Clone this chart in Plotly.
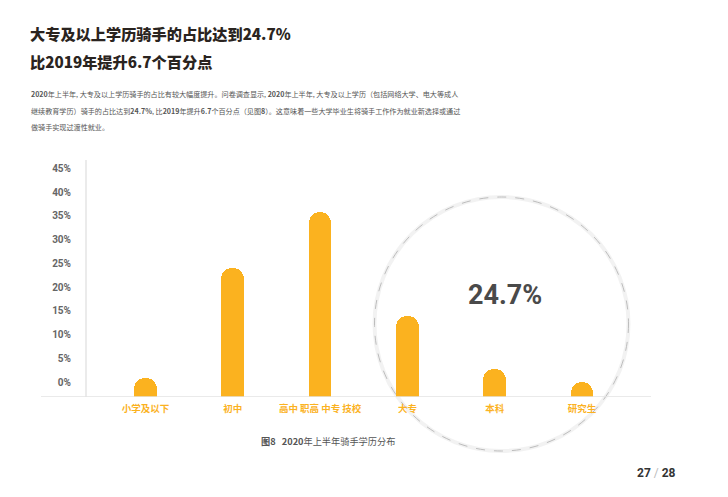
import plotly.graph_objects as go

categories = ["小学及以下", "初中", "高中 职高 中专 技校", "大专", "本科", "研究生"]
values = [0.9, 24.0, 35.8, 14.0, 2.7, 0.1]          # bar-top readings on the % axis
tick_vals = [0, 5, 10, 15, 20, 25, 30, 35, 40, 45]
tick_text = [f"{v}%" for v in tick_vals]
axis_floor = -3.16                                   # drawn baseline sits below the 0% tick
bar_base = -8.0                                      # bars start below the floor (clipped square)
highlight_text = "24.7%"

OFF = 8                                              # page body margin
W, H = 728 - OFF, 497 - OFF
L, R, T, B = 87 - OFF, 77, 160 - OFF, 100
PW, PH = W - L - R, H - T - B

def px(x):   # page pixel -> paper
    return (x - OFF - L) / PW

def py(y):
    return (H - B - (y - OFF)) / PH

BAR = "#FBB21F"
CJK = "Noto Sans CJK SC"

fig = go.Figure()
fig.add_trace(go.Bar(
    x=categories,
    y=[v - bar_base for v in values],
    base=bar_base,
    width=0.26,
    marker=dict(color=BAR, cornerradius="50%", line=dict(width=0)),
    hoverinfo="skip",
))

shapes = [
    dict(type="line", xref="paper", yref="y", x0=px(41), x1=1.0,
         y0=axis_floor, y1=axis_floor, line=dict(color="#e3e3e3", width=1.5), layer="above"),
    dict(type="circle", xref="paper", yref="paper", xsizemode="pixel", ysizemode="pixel",
         xanchor=px(501.5), yanchor=py(324), x0=-127, x1=127, y0=-127, y1=127,
         line=dict(color="rgba(0,0,0,0.05)", width=4), layer="below"),
    dict(type="circle", xref="paper", yref="paper", xsizemode="pixel", ysizemode="pixel",
         xanchor=px(501.5), yanchor=py(324), x0=-127, x1=127, y0=-127, y1=127,
         line=dict(color="#bdbdbd", width=1, dash="dash"), layer="below"),
]

ann = []
def text(x, y, s, size, color, xanchor="left", family=CJK, weight=None):
    f = dict(size=size, color=color, family=family)
    if weight:
        f["weight"] = weight
    ann.append(dict(xref="paper", yref="paper", x=px(x), y=py(y), text=s, showarrow=False,
                    xanchor=xanchor, yanchor="middle", font=f))

text(28, 33, "大专及以上学历骑手的占比达到24.7%", 15.2, "#2a2420", weight=900)
text(28, 61, "比2019年提升6.7个百分点", 15.2, "#2a2420", weight=900)

body = [
    "<b>2020</b>年上半年, 大专及以上学历骑手的占比有较大幅度提升。问卷调查显示, <b>2020</b>年上半年, 大专及以上学历（包括网络大学、电大等成人",
    "继续教育学历）骑手的占比达到<b>24.7%</b>, 比<b>2019</b>年提升<b>6.7</b>个百分点（见图<b>8</b>）。这意味着一些大学毕业生将骑手工作作为就业新选择或通过",
    "做骑手实现过渡性就业。",
]
for i, line in enumerate(body):
    text(29, [94, 111, 127][i], line, 7.1, "#555555")

ann.append(dict(xref="paper", yref="paper", x=px(505), y=py(295), text="<b>" + highlight_text + "</b>",
                showarrow=False, xanchor="center", yanchor="middle",
                font=dict(size=27, color="#4a4a4a", family="Roboto")))

text(328, 441, "<b>图8</b>   <b>2020</b>年上半年骑手学历分布", 9.2, "#555555", xanchor="center")
ann.append(dict(xref="paper", yref="paper", x=px(678), y=py(473),
                text="<b>27</b> <span style='color:#bbbbbb'>/</span> <b>28</b>",
                showarrow=False, xanchor="right", yanchor="middle",
                font=dict(size=12, color="#333333", family="Roboto")))

fig.update_layout(
    width=W, height=H,
    margin=dict(l=L, r=R, t=T, b=B, autoexpand=False),
    paper_bgcolor="white", plot_bgcolor="white",
    showlegend=False,
    shapes=shapes, annotations=ann,
    bargap=0,
)
fig.update_xaxes(
    type="category", range=[-0.67, 5.79], showgrid=False, zeroline=False, showline=False,
    automargin=False, ticks="", ticklabelstandoff=4,
    tickfont=dict(size=9.5, color=BAR, family=CJK),
    ticktext=[f"<b>{c}</b>" for c in categories], tickvals=categories,
)
fig.update_yaxes(
    range=[axis_floor, 46.8], tickvals=tick_vals, ticktext=[f"<b>{t}</b>" for t in tick_text],
    showgrid=False, zeroline=False, showline=True, linecolor="#ebebeb", linewidth=2,
    automargin=False, ticks="", ticklabelstandoff=12,
    tickfont=dict(size=10, color="#666666", family="Roboto"),
)

fig.write_html("out.html")
